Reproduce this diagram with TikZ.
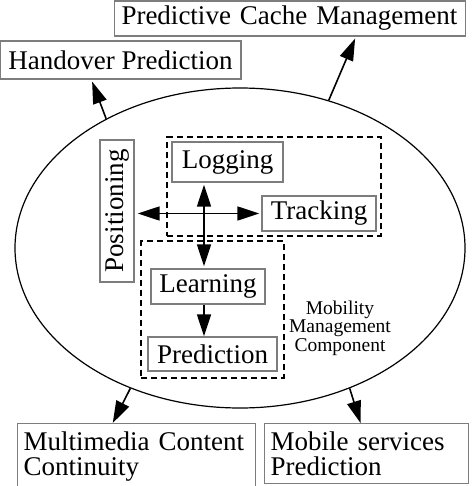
\documentclass[tikz,border=0pt]{standalone}
\usepackage{fontspec}
\setmainfont{Liberation Serif}
\usetikzlibrary{arrows.meta,positioning,fit,calc,shapes.geometric}
\definecolor{boxgray}{RGB}{125,125,125}
\tikzset{
  module/.style={draw=boxgray, line width=1.4pt, inner sep=0pt, align=center,
    font=\fontsize{27}{25}\selectfont},
  appbox/.style={module, align=left, inner xsep=6pt, inner ysep=8pt, anchor=north west},
  group/.style={draw, line width=1.7pt, dash pattern=on 6pt off 4pt},
  link/.style={-{Triangle[length=22pt,width=14pt]}, line width=1.6pt},
  dbllink/.style={{Triangle[length=22pt,width=14pt]}-{Triangle[length=22pt,width=14pt]}, line width=1.6pt},
  caption/.style={font=\fontsize{19.5}{18.5}\selectfont, align=center}
}
\begin{document}
\begin{tikzpicture}[x=1pt, y=-1pt]
  \useasboundingbox (0,0) rectangle (474,486);
  % component ellipse
  \node[ellipse, draw, line width=1.2pt, minimum width=450pt, minimum height=320pt, inner sep=0pt] (mmc) at (240,248) {};
  % applications above
  \node[module, minimum width=351pt, minimum height=35pt, text width=337pt, align=left] (cache) at (290,18.5) {Predictive Cache Management};
  \node[module, minimum width=241pt, minimum height=38pt] (handover) at (120.5,60) {Handover Prediction};
  % inner modules
  \node[module, rotate=90, minimum width=142pt, minimum height=34pt] (pos) at (117,211) {Positioning};
  \node[module, minimum width=111pt, minimum height=40pt] (log) at (227.5,162) {Logging};
  \node[module, minimum width=114pt, minimum height=35pt] (trk) at (319,213.5) {Tracking};
  \node[module, minimum width=114pt, minimum height=35pt] (lrn) at (208,286.5) {Learning};
  \node[module, minimum width=129pt, minimum height=34pt] (pred) at (212.5,354) {Prediction};
  \coordinate (grptop) at (204,247);
  \node[group, fit=(log)(trk), inner sep=4pt] (trackgrp) {};
  \node[group, fit=(lrn)(pred)(grptop), inner sep=6pt] (learngrp) {};
  \node[caption] (mmlabel) at (340,328) {Mobility\\Management\\Component};
  % applications below
  \node[appbox, text width=226pt] (mcc) at (17,423) {Multimedia Content\\Continuity};
  \node[appbox, text width=192pt] (msp) at (264,423) {Mobile services\\Prediction};
  % connectors
  \coordinate (vtop) at ([xshift=-23.5pt]log.south);
  \draw[dbllink, shorten <=2pt, shorten >=2pt] (vtop) -- (vtop |- lrn.north);
  \draw[dbllink, shorten <=3pt, shorten >=2pt] (pos.south |- trk.west) -- (trk.west);
  \draw[link] ([xshift=-4pt]lrn.south) -- ([xshift=-4pt]lrn.south |- pred.north);
  \draw[link, shorten >=2pt] (mmc.136) -- ($(handover.south west)!0.38!(handover.south east)$);
  \draw[link, shorten >=2pt] (mmc.59) -- ($(cache.south west)!0.687!(cache.south east)$);
  \draw[link] (mmc.232) -- ($(mcc.north west)!0.40!(mcc.north east)$);
  \draw[link] (mmc.308) -- ($(msp.north west)!0.47!(msp.north east)$);
\end{tikzpicture}
\end{document}
